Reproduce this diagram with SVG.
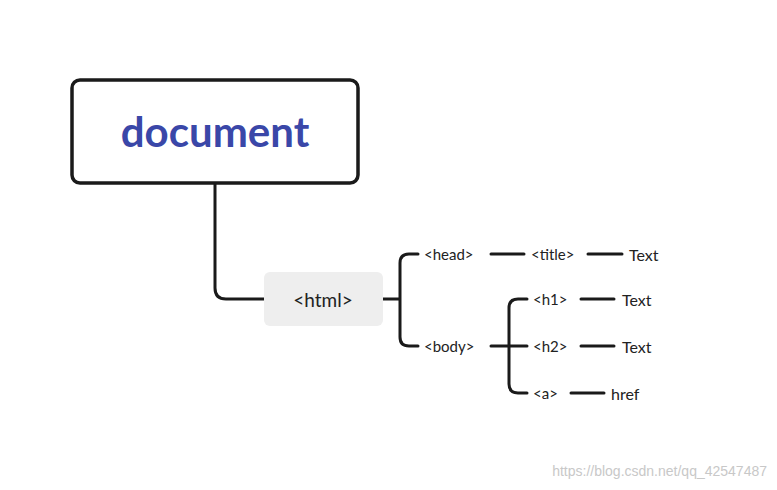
<svg xmlns="http://www.w3.org/2000/svg" width="777" height="490" viewBox="0 0 777 490">
<style>
.ln{fill:none;stroke:#1a1a1a;stroke-width:3;stroke-linecap:round}
.t{font-family:"Lato","Liberation Sans",sans-serif;font-size:15px;fill:#222;dominant-baseline:central}
</style>
<rect width="777" height="490" fill="#fff"/>
<g id="connectors">
<path class="ln" d="M215,184 V288 Q215,299 226,299 H265"/>
<path class="ln" d="M383,299 H400 M418,254 H409 Q400,254 400,263 V337 Q400,346 409,346 H418"/>
<path class="ln" d="M491,254 H524 M588,254 H622"/>
<path class="ln" d="M491,346 H527 M527,299 H518 Q509,299 509,308 V384 Q509,393 518,393 H527"/>
<path class="ln" d="M581,299 H614 M581,346 H614 M571,393 H604"/>
</g>
<g id="document"><rect x="72" y="80" width="286" height="103" rx="8" fill="#fff" stroke="#1a1a1a" stroke-width="3.5"/>
<text x="215" y="131" text-anchor="middle" style="font-family:'Lato','Liberation Sans',sans-serif;font-weight:bold;font-size:42px;fill:#3a47a8;dominant-baseline:central">document</text></g>
<g id="html"><rect x="264" y="272" width="119" height="54" rx="6" fill="#eeeeee"/>
<text x="323" y="299" text-anchor="middle" class="t" style="font-size:19px">&lt;html&gt;</text></g>
<g id="head"><text x="424" y="254" class="t">&lt;head&gt;</text></g>
<g id="title"><text x="531" y="254" class="t">&lt;title&gt;</text></g>
<g id="text1"><text x="629" y="254" class="t" style="font-size:16px">Text</text></g>
<g id="body"><text x="424" y="346" class="t">&lt;body&gt;</text></g>
<g id="h1"><text x="533" y="299" class="t">&lt;h1&gt;</text></g>
<g id="text2"><text x="622" y="299" class="t" style="font-size:16px">Text</text></g>
<g id="h2"><text x="533" y="346" class="t">&lt;h2&gt;</text></g>
<g id="text3"><text x="622" y="346" class="t" style="font-size:16px">Text</text></g>
<g id="a"><text x="533" y="393" class="t">&lt;a&gt;</text></g>
<g id="href"><text x="611" y="393" class="t" style="font-size:16px">href</text></g>
<text x="767" y="471" text-anchor="end" style="font-family:'Liberation Sans',sans-serif;font-size:14px;fill:#c8c8c8;dominant-baseline:central">https://blog.csdn.net/qq_42547487</text>
</svg>
